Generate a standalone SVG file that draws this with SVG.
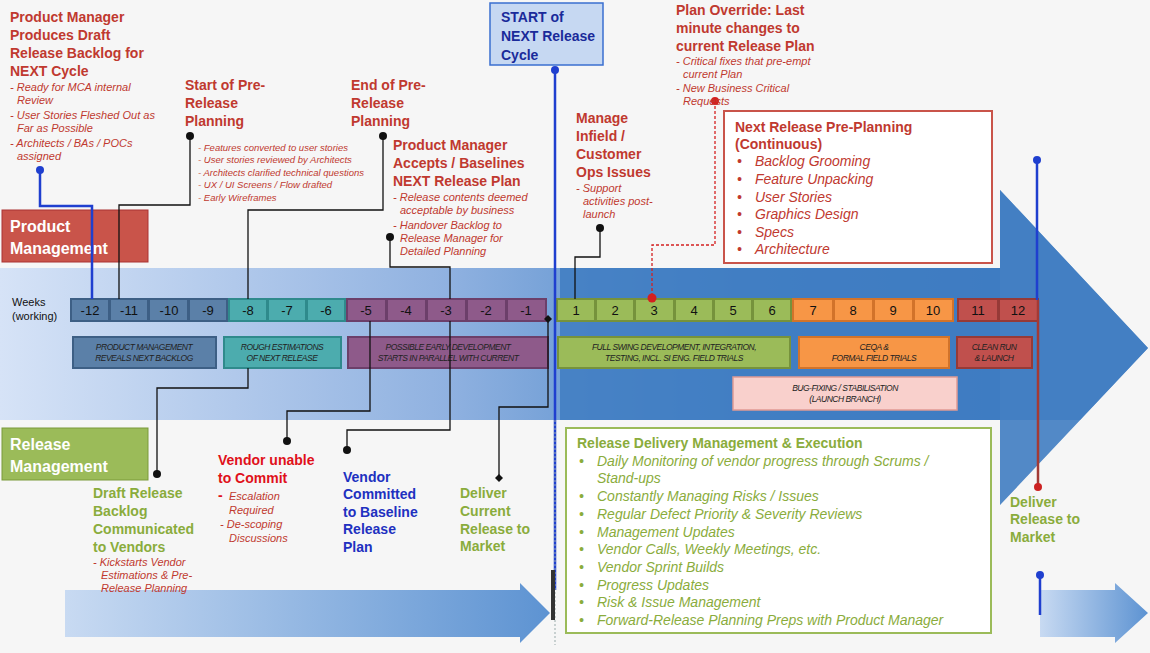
<svg xmlns="http://www.w3.org/2000/svg" width="1150" height="653" viewBox="0 0 1150 653">
<defs>
<linearGradient id="band" x1="0" y1="0" x2="1" y2="0"><stop offset="0" stop-color="#d6e3f7"/><stop offset="0.45" stop-color="#8fb1e0"/><stop offset="0.75" stop-color="#4a86c8"/><stop offset="1" stop-color="#3a79c0"/></linearGradient>
<linearGradient id="arr" x1="0" y1="0" x2="1" y2="0"><stop offset="0" stop-color="#c8daf2"/><stop offset="1" stop-color="#5d93d2"/></linearGradient>
<style>
text{font-family:"Liberation Sans",Arial,sans-serif}
.hr{fill:#c0392f;font-weight:bold;font-size:14px}
.ir{fill:#c0392f;font-style:italic;font-size:11px}
.hg{fill:#8aac3c;font-weight:bold;font-size:14px}
.ig{fill:#8aac3c;font-style:italic;font-size:14px}
.cell{stroke-width:2}
.wk{font-size:13px;fill:#111;text-anchor:middle}
.ph{font-size:8.5px;font-style:italic;fill:#222;text-anchor:middle;letter-spacing:-0.5px}
.bk{fill:none;stroke:#111;stroke-width:1.3}
</style>
</defs>
<rect width="1150" height="653" fill="#f6f6f6"/>
<rect x="0" y="268" width="1000" height="152" fill="url(#band)"/>
<polygon points="560,268 1000,268 1000,190 1148,348 1000,505 1000,420 560,420" fill="#3f7cc2" opacity="0.85"/>
<rect x="0" y="420" width="1150" height="233" fill="#f6f6f6" opacity="0.6"/>
<polygon points="640,420 1000,420 1000,505 1148,348 1000,190 1000,420" fill="#3f7cc2" opacity="0.85"/>
<polygon points="65,590 520,590 520,583 550,613 520,643 520,637 65,637" fill="url(#arr)"/>
<polygon points="1040,590 1115,590 1115,583 1148,613 1115,643 1115,637 1040,637" fill="url(#arr)"/>

<g id="pm"><rect x="2" y="210" width="146" height="52" fill="#c9544a" stroke="#a33" stroke-width="1"/><text x="10" y="232" fill="#fff" font-weight="bold" font-size="16">Product</text><text x="10" y="254" fill="#fff" font-weight="bold" font-size="16">Management</text></g>
<g id="rm"><rect x="2" y="428" width="146" height="52" fill="#9bbb59" stroke="#7a9a3a" stroke-width="1"/><text x="10" y="450" fill="#fff" font-weight="bold" font-size="16">Release</text><text x="10" y="472" fill="#fff" font-weight="bold" font-size="16">Management</text></g>

<text x="12" y="306" font-size="11" fill="#111">Weeks</text><text x="12" y="320" font-size="11" fill="#111">(working)</text>
<g id="weeks">
<g fill="#5b80a8" stroke="#3d5f85" class="cell"><rect x="71" y="299" width="38" height="22"/><rect x="110" y="299" width="38" height="22"/><rect x="149" y="299" width="39" height="22"/><rect x="189" y="299" width="38" height="22"/></g>
<g fill="#4cacae" stroke="#2f8a8c" class="cell"><rect x="229" y="299" width="38" height="22"/><rect x="268" y="299" width="38" height="22"/><rect x="307" y="299" width="38" height="22"/></g>
<g fill="#8e5a8a" stroke="#6c3f6a" class="cell"><rect x="347" y="299" width="39" height="22"/><rect x="387" y="299" width="39" height="22"/><rect x="427" y="299" width="39" height="22"/><rect x="467" y="299" width="39" height="22"/><rect x="507" y="299" width="39" height="22"/></g>
<g fill="#9bbb59" stroke="#76923c" class="cell"><rect x="557" y="299" width="38" height="22"/><rect x="596" y="299" width="38" height="22"/><rect x="635" y="299" width="39" height="22"/><rect x="675" y="299" width="38" height="22"/><rect x="714" y="299" width="38" height="22"/><rect x="753" y="299" width="38" height="22"/></g>
<g fill="#f79646" stroke="#d2732a" class="cell"><rect x="793" y="299" width="40" height="22"/><rect x="834" y="299" width="39" height="22"/><rect x="874" y="299" width="39" height="22"/><rect x="914" y="299" width="39" height="22"/></g>
<g fill="#c0504d" stroke="#963a37" class="cell"><rect x="958" y="299" width="40" height="22"/><rect x="999" y="299" width="39" height="22"/></g>
<g class="wk"><text x="90" y="315">-12</text><text x="129" y="315">-11</text><text x="169" y="315">-10</text><text x="208" y="315">-9</text><text x="248" y="315">-8</text><text x="287" y="315">-7</text><text x="326" y="315">-6</text><text x="366" y="315">-5</text><text x="406" y="315">-4</text><text x="446" y="315">-3</text><text x="486" y="315">-2</text><text x="526" y="315">-1</text><text x="576" y="315">1</text><text x="615" y="315">2</text><text x="654" y="315">3</text><text x="694" y="315">4</text><text x="733" y="315">5</text><text x="772" y="315">6</text><text x="813" y="315">7</text><text x="853" y="315">8</text><text x="893" y="315">9</text><text x="933" y="315">10</text><text x="978" y="315">11</text><text x="1018" y="315">12</text></g>
</g>

<g id="phases">
<rect x="73" y="337" width="143" height="31" fill="#5b80a8" stroke="#3d5f85" stroke-width="2"/><text class="ph" x="144" y="350">PRODUCT MANAGEMENT</text><text class="ph" x="144" y="361">REVEALS NEXT BACKLOG</text>
<rect x="224" y="337" width="117" height="31" fill="#4cacae" stroke="#2f8a8c" stroke-width="2"/><text class="ph" x="282" y="350">ROUGH ESTIMATIONS</text><text class="ph" x="282" y="361">OF NEXT RELEASE</text>
<rect x="348" y="337" width="200" height="31" fill="#8e5a8a" stroke="#6c3f6a" stroke-width="2"/><text class="ph" x="448" y="350">POSSIBLE EARLY DEVELOPMENT</text><text class="ph" x="448" y="361">STARTS IN PARALLEL WITH CURRENT</text>
<rect x="558" y="337" width="232" height="31" fill="#9bbb59" stroke="#76923c" stroke-width="2"/><text class="ph" x="674" y="350">FULL SWING DEVELOPMENT, INTEGRATION,</text><text class="ph" x="674" y="361">TESTING, INCL. SI ENG. FIELD TRIALS</text>
<rect x="799" y="337" width="150" height="31" fill="#f79646" stroke="#d2732a" stroke-width="2"/><text class="ph" x="874" y="350">CEQA &amp;</text><text class="ph" x="874" y="361">FORMAL FIELD TRIALS</text>
<rect x="957" y="337" width="75" height="31" fill="#c0504d" stroke="#963a37" stroke-width="2"/><text class="ph" x="994" y="350">CLEAN RUN</text><text class="ph" x="994" y="361">&amp; LAUNCH</text>
<rect x="733" y="377" width="224" height="33" fill="#f9d0cc" stroke="#e09a94" stroke-width="1.5"/><text class="ph" x="845" y="391">BUG-FIXING / STABILISATION</text><text class="ph" x="845" y="402">(LAUNCH BRANCH)</text>
</g>

<g id="connectors">
<polyline points="40,170 40,206 92,206 92,299" fill="none" stroke="#1f3fcf" stroke-width="2.5"/><circle cx="40" cy="170" r="4" fill="#1f3fcf"/>
<polyline class="bk" points="190,136 190,205 119,205 119,299"/><circle cx="190" cy="136" r="4" fill="#111"/>
<polyline class="bk" points="383,136 383,210 248,210 248,299"/><circle cx="383" cy="136" r="4" fill="#111"/>
<polyline class="bk" points="390,237 390,267 450,267 450,299"/><circle cx="390" cy="237" r="4" fill="#111"/>
<polyline class="bk" points="600,228 600,257 575,257 575,299"/><circle cx="600" cy="228" r="4" fill="#111"/>
<polyline points="715,101 715,245 652,245 652,298" fill="none" stroke="#d42020" stroke-width="1.3" stroke-dasharray="3,2"/><circle cx="715" cy="101" r="4" fill="#d42020"/><circle cx="652" cy="298" r="4.5" fill="#d42020"/>
<line x1="555" y1="70" x2="555" y2="590" stroke="#1f3fcf" stroke-width="2.5"/><circle cx="555" cy="70" r="4" fill="#1f3fcf"/>
<line x1="555" y1="420" x2="555" y2="645" stroke="#9aa" stroke-width="1" stroke-dasharray="2,2"/>
<rect x="551" y="570" width="4" height="50" fill="#333"/>
<line x1="1037" y1="160" x2="1037" y2="300" stroke="#1f3fcf" stroke-width="2.5"/><circle cx="1037" cy="160" r="4" fill="#1f3fcf"/>
<line x1="1038" y1="300" x2="1038" y2="487" stroke="#a33a35" stroke-width="2.5"/><circle cx="1038" cy="487" r="4" fill="#c22"/>
<line x1="1040" y1="575" x2="1040" y2="615" stroke="#1f3fcf" stroke-width="2.5"/><circle cx="1040" cy="575" r="4" fill="#1f3fcf"/>
<polyline class="bk" points="248,368 248,388 157,388 157,474"/><circle cx="157" cy="474" r="4" fill="#111"/>
<polyline class="bk" points="370,321 370,411 287,411 287,441"/><circle cx="287" cy="441" r="4" fill="#111"/>
<polyline class="bk" points="450,321 450,430 347,430 347,450"/><circle cx="347" cy="450" r="4" fill="#111"/>
<polyline class="bk" points="548,320 548,407 499,407 499,478"/><path d="M548,315 l4,4 -4,4 -4,-4z" fill="#111"/><path d="M499,474 l4,4 -4,4 -4,-4z" fill="#111"/>
</g>

<g id="n-draft">
<text class="hr"><tspan x="10" y="22">Product Manager</tspan><tspan x="10" y="40">Produces Draft</tspan><tspan x="10" y="58">Release Backlog for</tspan><tspan x="10" y="76">NEXT Cycle</tspan></text>
<text class="ir"><tspan x="10" y="91">- Ready for MCA internal</tspan><tspan x="17" y="104">Review</tspan><tspan x="10" y="119">- User Stories Fleshed Out as</tspan><tspan x="17" y="132">Far as Possible</tspan><tspan x="10" y="147">- Architects / BAs / POCs</tspan><tspan x="17" y="160">assigned</tspan></text>
</g>
<g id="n-start-pre">
<text class="hr"><tspan x="185" y="90">Start of Pre-</tspan><tspan x="185" y="108">Release</tspan><tspan x="185" y="126">Planning</tspan></text>
<text class="ir" style="font-size:9.5px"><tspan x="198" y="151">- Features converted to user stories</tspan><tspan x="198" y="163">- User stories reviewed by Architects</tspan><tspan x="198" y="176">- Architects clarified technical questions</tspan><tspan x="198" y="188">- UX / UI Screens / Flow drafted</tspan><tspan x="198" y="201">- Early Wireframes</tspan></text>
</g>
<g id="n-end-pre"><text class="hr"><tspan x="351" y="90">End of Pre-</tspan><tspan x="351" y="108">Release</tspan><tspan x="351" y="126">Planning</tspan></text></g>
<g id="n-accepts">
<text class="hr"><tspan x="393" y="150">Product Manager</tspan><tspan x="393" y="168">Accepts / Baselines</tspan><tspan x="393" y="186">NEXT Release Plan</tspan></text>
<text class="ir"><tspan x="393" y="201">- Release contents deemed</tspan><tspan x="400" y="214">acceptable by business</tspan><tspan x="393" y="229">- Handover Backlog to</tspan><tspan x="400" y="242">Release Manager for</tspan><tspan x="400" y="255">Detailed Planning</tspan></text>
</g>
<g id="n-start-next"><rect x="490" y="3" width="113" height="62" fill="#c6d8f2" stroke="#3a6fd0" stroke-width="1.5"/><text font-weight="bold" font-size="14" fill="#1a2a9a"><tspan x="501" y="22">START of</tspan><tspan x="501" y="41">NEXT Release</tspan><tspan x="501" y="60">Cycle</tspan></text></g>
<g id="n-infield">
<text class="hr"><tspan x="576" y="123">Manage</tspan><tspan x="576" y="141">Infield /</tspan><tspan x="576" y="159">Customer</tspan><tspan x="576" y="177">Ops Issues</tspan></text>
<text class="ir"><tspan x="576" y="192">- Support</tspan><tspan x="583" y="205">activities post-</tspan><tspan x="583" y="218">launch</tspan></text>
</g>
<g id="n-override">
<text class="hr"><tspan x="676" y="15">Plan Override: Last</tspan><tspan x="676" y="33">minute changes to</tspan><tspan x="676" y="51">current Release Plan</tspan></text>
<text class="ir"><tspan x="676" y="65">- Critical fixes that pre-empt</tspan><tspan x="683" y="78">current Plan</tspan><tspan x="676" y="92">- New Business Critical</tspan><tspan x="683" y="105">Requests</tspan></text>
</g>
<g id="n-preplanning">
<rect x="724" y="111" width="268" height="152" fill="#fff" stroke="#c9544a" stroke-width="2"/>
<text class="hr"><tspan x="735" y="132">Next Release Pre-Planning</tspan><tspan x="735" y="149">(Continuous)</tspan></text>
<text fill="#c0392f" font-style="italic" font-size="14"><tspan x="737" y="166">•</tspan><tspan x="755" y="166">Backlog Grooming</tspan><tspan x="737" y="184">•</tspan><tspan x="755" y="184">Feature Unpacking</tspan><tspan x="737" y="202">•</tspan><tspan x="755" y="202">User Stories</tspan><tspan x="737" y="219">•</tspan><tspan x="755" y="219">Graphics Design</tspan><tspan x="737" y="237">•</tspan><tspan x="755" y="237">Specs</tspan><tspan x="737" y="254">•</tspan><tspan x="755" y="254">Architecture</tspan></text>
</g>
<g id="n-draft-comm">
<text class="hg"><tspan x="93" y="498">Draft Release</tspan><tspan x="93" y="516">Backlog</tspan><tspan x="93" y="534">Communicated</tspan><tspan x="93" y="552">to Vendors</tspan></text>
<text class="ir" font-size="10.5"><tspan x="93" y="566">- Kickstarts Vendor</tspan><tspan x="101" y="579">Estimations &amp; Pre-</tspan><tspan x="101" y="592">Release Planning</tspan></text>
</g>
<g id="n-unable">
<text font-weight="bold" font-size="14" fill="#e0101a"><tspan x="218" y="465">Vendor unable</tspan><tspan x="218" y="483">to Commit</tspan><tspan x="218" y="500">-</tspan></text>
<text class="ir" fill="#e0101a"><tspan x="229" y="500">Escalation</tspan><tspan x="229" y="514">Required</tspan><tspan x="220" y="528">- De-scoping</tspan><tspan x="229" y="542">Discussions</tspan></text>
</g>
<g id="n-committed"><text font-weight="bold" font-size="14" fill="#2030c0"><tspan x="343" y="482">Vendor</tspan><tspan x="343" y="499">Committed</tspan><tspan x="343" y="517">to Baseline</tspan><tspan x="343" y="534">Release</tspan><tspan x="343" y="552">Plan</tspan></text></g>
<g id="n-deliver-current"><text class="hg"><tspan x="460" y="498">Deliver</tspan><tspan x="460" y="516">Current</tspan><tspan x="460" y="534">Release to</tspan><tspan x="460" y="551">Market</tspan></text></g>
<g id="n-rdm">
<rect x="566" y="428" width="425" height="205" fill="#fff" stroke="#9bbb59" stroke-width="2"/>
<text class="hg" x="577" y="448">Release Delivery Management &amp; Execution</text>
<text class="ig"><tspan x="579" y="466">•</tspan><tspan x="597" y="466">Daily Monitoring of vendor progress through Scrums /</tspan><tspan x="597" y="483">Stand-ups</tspan><tspan x="579" y="501">•</tspan><tspan x="597" y="501">Constantly Managing Risks / Issues</tspan><tspan x="579" y="519">•</tspan><tspan x="597" y="519">Regular Defect Priority &amp; Severity Reviews</tspan><tspan x="579" y="537">•</tspan><tspan x="597" y="537">Management Updates</tspan><tspan x="579" y="554">•</tspan><tspan x="597" y="554">Vendor Calls, Weekly Meetings, etc.</tspan><tspan x="579" y="572">•</tspan><tspan x="597" y="572">Vendor Sprint Builds</tspan><tspan x="579" y="590">•</tspan><tspan x="597" y="590">Progress Updates</tspan><tspan x="579" y="607">•</tspan><tspan x="597" y="607">Risk &amp; Issue Management</tspan><tspan x="579" y="625">•</tspan><tspan x="597" y="625">Forward-Release Planning Preps with Product Manager</tspan></text>
</g>
<g id="n-deliver-release"><text class="hg"><tspan x="1010" y="507">Deliver</tspan><tspan x="1010" y="524">Release to</tspan><tspan x="1010" y="542">Market</tspan></text></g>
</svg>
